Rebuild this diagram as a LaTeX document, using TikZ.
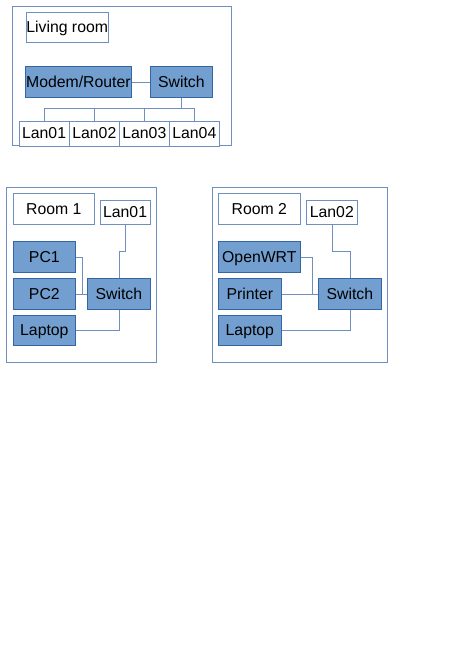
\documentclass[tikz,border=0pt]{standalone}
\usepackage{fontspec}
\setmainfont{Liberation Sans}
\usetikzlibrary{calc}
\definecolor{fillblue}{HTML}{729FCF}
\definecolor{lineblue}{HTML}{3465A4}
\definecolor{frameblue}{HTML}{6F8FBF}
\begin{document}
\begin{tikzpicture}[x=1pt,y=-1pt,
  base/.style={rectangle, inner sep=0pt, anchor=north west, font=\fontsize{15.8}{18}\selectfont, text height=11.2pt, text depth=0.6pt, line width=0.7pt},
  dev/.style={base, draw=lineblue, fill=fillblue, text=black},
  lbl/.style={base, draw=frameblue, fill=white, text=black},
  frame/.style={draw=frameblue, line width=0.7pt},
  wire/.style={draw=frameblue, line width=0.7pt}]
\useasboundingbox (0,0) rectangle (474,670);
\fill[white] (0,0) rectangle (474,670);
\newcommand{\bx}[7]{\node[#7, minimum width=#4pt-#2pt, minimum height=#5pt-#3pt] (#1) at (#2,#3) {#6};}
% Living room
\draw[frame] (12,6) rectangle (231,145);
\bx{lr}{26}{12}{106}{42}{Living room}{lbl}
\bx{modem}{25}{66}{131}{97}{Modem/Router}{dev}
\bx{sw}{150}{66}{212}{97}{Switch}{dev}
\bx{lanA}{18.5}{120.5}{69}{145.5}{Lan01}{lbl}
\bx{lanB}{69}{120.5}{119}{145.5}{Lan02}{lbl}
\bx{lanC}{119}{120.5}{169}{145.5}{Lan03}{lbl}
\bx{lanD}{169}{120.5}{219}{145.5}{Lan04}{lbl}
\coordinate (bus) at (0,108);
\draw[wire] (modem.east) -- (sw.west);
\draw[wire] (sw.south) -- (sw.south |- bus);
\draw[wire] (lanA.north) -- (lanA.north |- bus) -- (lanD.north |- bus) -- (lanD.north);
\draw[wire] (lanB.north) -- (lanB.north |- bus);
\draw[wire] (lanC.north) -- (lanC.north |- bus);
% Room 1
\draw[frame] (6,187) rectangle (156,362);
\bx{rA}{13}{193}{94}{224}{Room 1}{lbl}
\bx{lanR}{99.5}{199.5}{150}{224}{Lan01}{lbl}
\bx{pcA}{13}{241}{75}{272}{PC1}{dev}
\bx{pcB}{13}{278}{75}{309}{PC2}{dev}
\bx{lapA}{13}{315}{75}{345}{Laptop}{dev}
\bx{swA}{87}{278}{150}{309}{Switch}{dev}
\coordinate (jA) at ($(pcB.east)+(7,0)$);
\draw[wire] (pcA.east) -| (jA);
\draw[wire] (pcB.east) -- (swA.west);
\draw[wire] (lapA.east) -| (swA.south);
\draw[wire] (lanR.south) -- ++(0,26.5) -| (swA.north);
% Room 2
\draw[frame] (212,187) rectangle (387,362);
\bx{rB}{218}{193}{300}{224}{Room 2}{lbl}
\bx{lanS}{306}{199.5}{357}{224}{Lan02}{lbl}
\bx{owrt}{218}{241}{300}{272}{OpenWRT}{dev}
\bx{prn}{218}{278}{281}{309}{Printer}{dev}
\bx{lapB}{218}{315}{281}{345}{Laptop}{dev}
\bx{swB}{318}{278}{381}{309}{Switch}{dev}
\coordinate (jB) at ($(prn.east)+(30.7,0)$);
\draw[wire] (owrt.east) -| (jB);
\draw[wire] (prn.east) -- (swB.west);
\draw[wire] (lapB.east) -| (swB.south);
\draw[wire] (lanS.south) -- ++(0,26.5) -| (swB.north);
\end{tikzpicture}
\end{document}
